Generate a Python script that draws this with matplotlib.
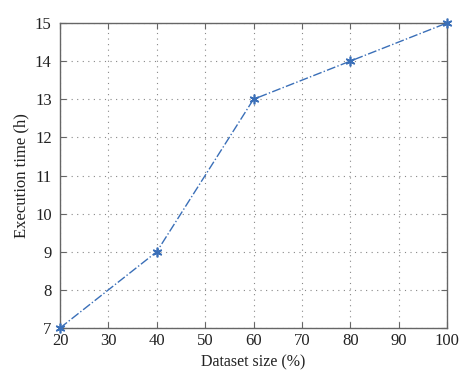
import matplotlib
matplotlib.use("Agg")
import matplotlib.pyplot as plt

dataset_size = [20, 40, 60, 80, 100]
exec_time = [7, 9, 13, 14, 15]
xticks = [20, 30, 40, 50, 60, 70, 80, 90, 100]
yticks = [7, 8, 9, 10, 11, 12, 13, 14, 15]

plt.rcParams['font.family'] = ['Liberation Serif', 'DejaVu Serif']

fig = plt.figure(figsize=(4.74, 3.87), dpi=100)
ax = fig.add_axes([60/474, 1-328/387, (447-60)/474, (328-23)/387])
ax.plot(dataset_size, exec_time, linestyle='-.', color='#3a6fb8', linewidth=1.0,
        marker=(6, 2, 0), markersize=7, markeredgewidth=1.2, clip_on=False, zorder=5)
ax.set_xlim(20, 100)
ax.set_ylim(7, 15)
ax.set_xticks(xticks)
ax.set_yticks(yticks)
ax.grid(True, linestyle=(0, (1, 4)), color='#888888', linewidth=0.8)
for s in ax.spines.values():
    s.set_color('#666666')
    s.set_linewidth(1.0)
ax.tick_params(direction='in', colors='#666666', labelcolor='#222222', labelsize=12, length=4,
               top=True, right=True)
ax.tick_params(axis='y', pad=6)
ax.set_xlabel('Dataset size (%)', fontsize=11.5, color='#222222')
ax.set_ylabel('Execution time (h)', fontsize=12, color='#222222')
fig.savefig('out.png', dpi=100)
